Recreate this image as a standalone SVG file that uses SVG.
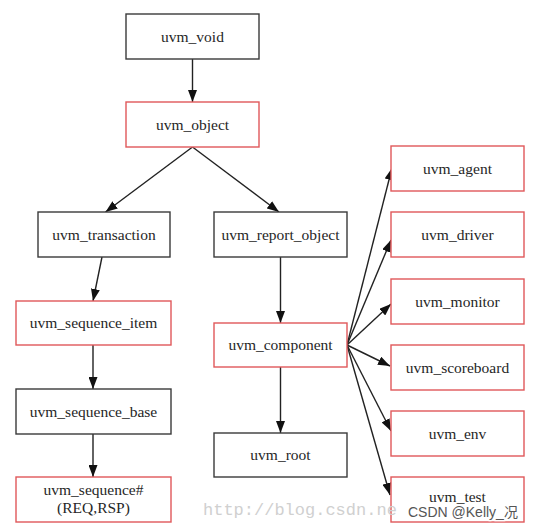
<svg xmlns="http://www.w3.org/2000/svg" width="534" height="530" viewBox="0 0 534 530">
<style>
.b{fill:#fff;stroke:#3a3a3a;stroke-width:1.4}
.r{fill:#fff;stroke:#e0585a;stroke-width:1.4}
.t{font-family:"Liberation Serif","Times New Roman",serif;font-size:15.5px;fill:#262626;text-anchor:middle}
.e{stroke:#222;stroke-width:1.4;fill:none;marker-end:url(#ah)}
</style>
<defs>
<marker id="ah" markerUnits="userSpaceOnUse" markerWidth="12" markerHeight="9" refX="12" refY="4.5" orient="auto">
<path d="M0,0 L12,4.5 L0,9 z" fill="#111"/>
</marker>
</defs>
<rect width="534" height="530" fill="#fff"/>
<g id="edges">
<line class="e" x1="192.5" y1="59" x2="192.5" y2="102"/>
<line class="e" x1="192.5" y1="147" x2="105.5" y2="212"/>
<line class="e" x1="192.5" y1="147" x2="279" y2="212"/>
<line class="e" x1="102" y1="257" x2="93" y2="301"/>
<line class="e" x1="93" y1="345" x2="93" y2="389"/>
<line class="e" x1="93" y1="434" x2="93" y2="477"/>
<line class="e" x1="280.5" y1="257" x2="280.5" y2="323"/>
<line class="e" x1="280.5" y1="367" x2="280.5" y2="433"/>
<line class="e" x1="347" y1="345" x2="392" y2="168"/>
<line class="e" x1="347" y1="345" x2="391" y2="240"/>
<line class="e" x1="347" y1="345" x2="391" y2="304"/>
<line class="e" x1="347" y1="345" x2="390" y2="366"/>
<line class="e" x1="347" y1="345" x2="391" y2="431"/>
<line class="e" x1="347" y1="345" x2="390" y2="495"/>
</g>
<g id="uvm_void"><rect class="b" x="126" y="14" width="133" height="45"/><text class="t" x="192.5" y="41.5">uvm_void</text></g>
<g id="uvm_object"><rect class="r" x="126" y="102" width="133" height="45"/><text class="t" x="192.5" y="129.5">uvm_object</text></g>
<g id="uvm_transaction"><rect class="b" x="38" y="212" width="132" height="45"/><text class="t" x="104" y="239.5">uvm_transaction</text></g>
<g id="uvm_report_object"><rect class="b" x="214" y="212" width="133" height="45"/><text class="t" x="280.5" y="239.5">uvm_report_object</text></g>
<g id="uvm_sequence_item"><rect class="r" x="16" y="301" width="155" height="44"/><text class="t" x="93.5" y="328">uvm_sequence_item</text></g>
<g id="uvm_component"><rect class="r" x="214" y="323" width="133" height="44"/><text class="t" x="280.5" y="350">uvm_component</text></g>
<g id="uvm_sequence_base"><rect class="b" x="16" y="389" width="155" height="45"/><text class="t" x="93.5" y="416.5">uvm_sequence_base</text></g>
<g id="uvm_root"><rect class="b" x="214" y="433" width="133" height="44"/><text class="t" x="280.5" y="460">uvm_root</text></g>
<g id="uvm_sequence"><rect class="r" x="16" y="477" width="155" height="45"/><text class="t" x="93.5" y="495">uvm_sequence#</text><text class="t" x="93.5" y="513">(REQ,RSP)</text></g>
<g id="uvm_agent"><rect class="r" x="391" y="146" width="133" height="45"/><text class="t" x="457.5" y="173.5">uvm_agent</text></g>
<g id="uvm_driver"><rect class="r" x="391" y="212" width="133" height="45"/><text class="t" x="457.5" y="239.5">uvm_driver</text></g>
<g id="uvm_monitor"><rect class="r" x="391" y="279" width="133" height="45"/><text class="t" x="457.5" y="306.5">uvm_monitor</text></g>
<g id="uvm_scoreboard"><rect class="r" x="391" y="345" width="133" height="45"/><text class="t" x="457.5" y="372.5">uvm_scoreboard</text></g>
<g id="uvm_env"><rect class="r" x="391" y="411" width="133" height="45"/><text class="t" x="457.5" y="438.5">uvm_env</text></g>
<g id="uvm_test"><rect class="r" x="391" y="477" width="133" height="45"/><text class="t" x="457.5" y="502">uvm_test</text></g>
<g id="watermark">
<text x="203" y="515" font-family="'Liberation Mono','Courier New',monospace" font-size="17" fill="#d0d0d0">http://blog.csdn.ne</text>
<text x="408" y="517" font-family="'Liberation Sans','Noto Sans CJK SC',sans-serif" font-size="14" fill="#555" stroke="#fff" stroke-width="2.5" paint-order="stroke">CSDN @Kelly_况</text>
</g>
</svg>
